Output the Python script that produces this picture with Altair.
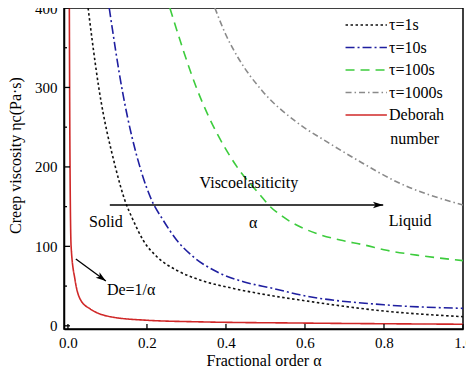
import altair as alt
import pandas as pd

# ---------------- data ----------------
series_names = ["τ=1s", "τ=10s", "τ=100s", "τ=1000s", "Deborah number"]
line_colors = ["#111111", "#1f1fa0", "#3dcc3d", "#8a8a8a", "#d02828"]
line_dashes = [[2.5, 2.5], [9, 3, 2, 3], [9, 6], [6, 3, 1.5, 3], [1, 0]]

alpha_tau1 = [0.051, 0.078, 0.12, 0.144, 0.165, 0.19, 0.225, 0.275, 0.334, 0.419, 0.503, 0.587, 0.8, 1.0]
eta_tau1 = [400, 300, 200, 158, 133, 108, 87, 70, 57.7, 47, 39, 32.5, 18.6, 11.5]

alpha_tau10 = [0.1045, 0.138, 0.187, 0.212, 0.241, 0.275, 0.317, 0.377, 0.444, 0.52, 0.587, 0.8, 1.0]
eta_tau10 = [400, 295, 192, 158, 133, 108, 87, 68, 55.5, 47, 39, 26.5, 22]

alpha_tau100 = [0.258, 0.325, 0.428, 0.486, 0.508, 0.545, 0.63, 0.689, 0.748, 0.807, 0.883, 1.0]
eta_tau100 = [400, 300, 200, 165, 152, 137, 116, 108, 102, 95, 89, 82]

alpha_tau1000 = [0.372, 0.40, 0.43, 0.493, 0.577, 0.661, 0.745, 0.829, 1.0]
eta_tau1000 = [400, 366, 338, 295, 257, 230, 205, 182, 152]

alpha_deborah = [0.0035, 0.005, 0.008, 0.018, 0.031, 0.057, 0.081, 0.107, 0.2, 0.334, 0.587, 1.0]
eta_deborah = [400, 220, 100, 57.6, 33.5, 21, 15, 11.5, 7, 5, 3.5, 2]

x_ticks = [0.0, 0.2, 0.4, 0.6, 0.8, 1.0]
y_ticks = [0, 100, 200, 300, 400]
y_minor_ticks = [50, 150, 250, 350]

# annotations
text_labels = ["Viscoelasiticity", "Solid", "α", "Liquid", "De=1/α"]
text_alpha = [0.458, 0.096, 0.469, 0.866, 0.160]
text_eta = [179.5, 130.7, 129, 132, 45]

arrow_alpha = [0.106]
arrow_alpha2 = [0.798]
arrow_eta = [152]

de_alpha = [0.020]
de_alpha2 = [0.096]
de_eta = [84]
de_eta2 = [56.4]

# ---------------- build ----------------
all_alpha = [alpha_tau1, alpha_tau10, alpha_tau100, alpha_tau1000, alpha_deborah]
all_eta = [eta_tau1, eta_tau10, eta_tau100, eta_tau1000, eta_deborah]
curves = pd.concat(
    [pd.DataFrame({"alpha": a, "eta": e, "series": n}) for n, a, e in zip(series_names, all_alpha, all_eta)],
    ignore_index=True,
)

FONT = "Liberation Serif"
W, H = 399, 321
xs = alt.Scale(domain=[-0.01, 1.0], nice=False, zero=False)
ys = alt.Scale(domain=[-4, 400], nice=False, zero=False)

x_axis = alt.Axis(values=x_ticks, format=".1f", ticks=False, grid=False, labelFlush=False,
                  labelOverlap=False, labelPadding=6, title="Fractional order α",
                  titleY=36, titleBaseline="alphabetic",
                  labelFont=FONT, labelFontSize=15, labelColor="black",
                  titleFont=FONT, titleFontSize=16, titleFontWeight="normal", titleColor="black",
                  domainColor="black", domainWidth=1.5)
y_axis = alt.Axis(values=y_ticks, format="d", ticks=False, grid=False, labelOverlap=False,
                  labelPadding=7, title="Creep viscosity ηc(Pa·s)", titleAngle=270,
                  titleX=-44, titleY=147, titleAlign="center", titleBaseline="alphabetic",
                  labelFont=FONT, labelFontSize=15, labelColor="black",
                  titleFont=FONT, titleFontSize=16, titleFontWeight="normal", titleColor="black",
                  domainColor="black", domainWidth=1.5)

legend = alt.Legend(orient="none", legendX=308, legendY=9, title=None,
                    symbolType="M-5,0L1,0", symbolSize=190, symbolStrokeWidth=1.6,
                    labelFont=FONT, labelFontSize=16, labelColor="black", rowPadding=6.5,
                    labelOffset=1, labelExpr="datum.label == 'Deborah number' ? 'Deborah' : datum.label")

lines = alt.Chart(curves).mark_line(clip=True, strokeWidth=1.6, interpolate="monotone").encode(
    x=alt.X("alpha:Q", scale=xs, axis=x_axis),
    y=alt.Y("eta:Q", scale=ys, axis=y_axis),
    color=alt.Color("series:N", scale=alt.Scale(domain=series_names, range=line_colors), legend=legend),
    strokeDash=alt.StrokeDash("series:N", scale=alt.Scale(domain=series_names, range=line_dashes), legend=legend),
)

xt = alt.Chart(pd.DataFrame({"alpha": x_ticks})).mark_rule(color="black", strokeWidth=1.3).encode(
    x=alt.X("alpha:Q", scale=xs, axis=x_axis), y=alt.value(H), y2=alt.value(H - 5))
yt = alt.Chart(pd.DataFrame({"eta": y_ticks})).mark_rule(color="black", strokeWidth=1.3).encode(
    y=alt.Y("eta:Q", scale=ys, axis=y_axis), x=alt.value(0), x2=alt.value(6))
ytm = alt.Chart(pd.DataFrame({"eta": y_minor_ticks})).mark_rule(color="black", strokeWidth=1.3).encode(
    y=alt.Y("eta:Q", scale=ys, axis=y_axis), x=alt.value(0), x2=alt.value(3))

arrow = alt.Chart(pd.DataFrame({"alpha": arrow_alpha, "alpha2": arrow_alpha2, "eta": arrow_eta})).mark_rule(
    color="black", strokeWidth=1.6).encode(
    x=alt.X("alpha:Q", scale=xs, axis=x_axis), x2="alpha2:Q", y=alt.Y("eta:Q", scale=ys, axis=y_axis))

de_line = alt.Chart(pd.DataFrame({"alpha": de_alpha, "alpha2": de_alpha2, "eta": de_eta, "eta2": de_eta2})).mark_rule(
    color="black", strokeWidth=1.3).encode(
    x=alt.X("alpha:Q", scale=xs, axis=x_axis), x2="alpha2:Q",
    y=alt.Y("eta:Q", scale=ys, axis=y_axis), y2="eta2:Q")

heads = alt.Chart(pd.DataFrame({"alpha": [arrow_alpha2[0], de_alpha2[0]],
                                "eta": [arrow_eta[0], de_eta2[0]],
                                "ang": [0, 36]})).mark_point(
    shape="M0,0L-1,-0.32L-0.75,0L-1,0.32Z", filled=True, color="black", size=420, opacity=1).encode(
    x=alt.X("alpha:Q", scale=xs, axis=x_axis), y=alt.Y("eta:Q", scale=ys, axis=y_axis),
    angle=alt.Angle("ang:Q", scale=None))

texts = alt.Chart(pd.DataFrame({"label": text_labels, "alpha": text_alpha, "eta": text_eta})).mark_text(
    font=FONT, fontSize=16, color="black", align="center", baseline="middle").encode(
    x=alt.X("alpha:Q", scale=xs, axis=x_axis), y=alt.Y("eta:Q", scale=ys, axis=y_axis), text="label:N")

number_txt = alt.Chart(pd.DataFrame({"label": ["number"], "alpha": [0.816], "eta": [235]})).mark_text(
    font=FONT, fontSize=16, color="black", align="left", baseline="middle").encode(
    x=alt.X("alpha:Q", scale=xs, axis=x_axis), y=alt.Y("eta:Q", scale=ys, axis=y_axis), text="label:N")

chart = alt.layer(lines, xt, yt, ytm, arrow, de_line, heads, texts, number_txt).properties(
    width=W, height=H,
    padding={"left": 56, "top": 0, "right": 3, "bottom": 39},
    autosize=alt.AutoSizeParams(type="none"),
    background="white",
).configure_view(stroke="black", strokeWidth=1.5)

chart.save("out.html", embed_options={"renderer": "svg", "actions": False})
